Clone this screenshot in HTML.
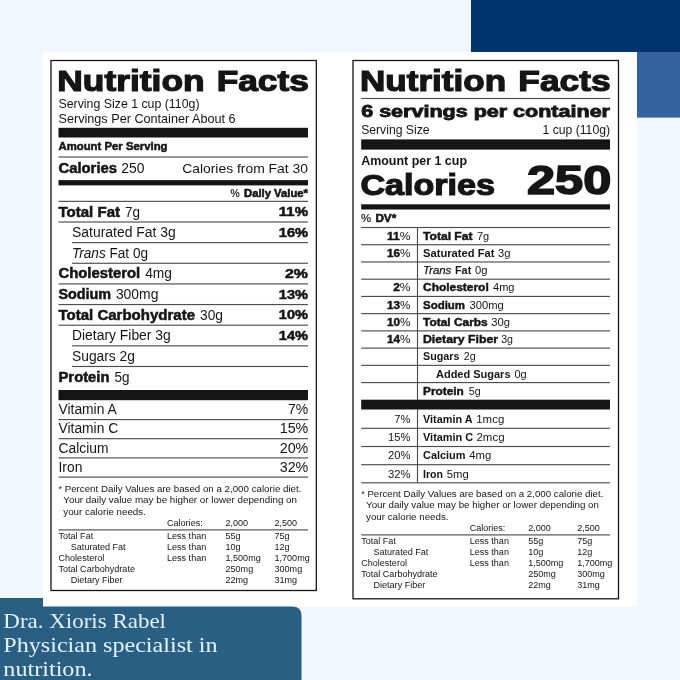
<!DOCTYPE html>
<html lang="en"><head><meta charset="utf-8"><title>Nutrition Facts</title>
<style>
html,body{margin:0;padding:0;background:#f2f7fc;}
body{width:680px;height:680px;overflow:hidden;}
svg{display:block;font-family:"Liberation Sans",sans-serif;fill:#151515;}
svg text{white-space:pre;}
</style></head><body>
<svg width="680" height="680" viewBox="0 0 680 680">
<rect x="0" y="0" width="680" height="680" fill="#f2f7fc"/>
<rect x="471" y="0" width="209" height="52.3" fill="#00346f"/>
<rect x="637" y="52" width="43" height="65.6" fill="#33629e"/>
<rect x="43" y="52" width="594" height="554.6" fill="#ffffff"/>
<path d="M0 598H43V606.6H292Q301.5 606.6 301.5 616V680H0Z" fill="#285f83"/>
<text x="3.30" y="628.00" font-size="21.32" font-family='"Liberation Serif", serif' fill="#e3f1f8" textLength="162.70" lengthAdjust="spacingAndGlyphs">Dra. Xioris Rabel</text>
<text x="3.30" y="652.00" font-size="21.32" font-family='"Liberation Serif", serif' fill="#e3f1f8" textLength="214.20" lengthAdjust="spacingAndGlyphs">Physician specialist in</text>
<text x="3.30" y="676.00" font-size="21.32" font-family='"Liberation Serif", serif' fill="#e3f1f8" textLength="89.30" lengthAdjust="spacingAndGlyphs">nutrition.</text>
<rect x="51" y="60.5" width="265.3" height="530" fill="none" stroke="#151515" stroke-width="1.3"/>
<text x="57.30" y="91.00" font-size="29.54" font-weight="bold" stroke="#151515" stroke-width="1.2" textLength="147.30" lengthAdjust="spacingAndGlyphs">Nutrition</text>
<text x="216.70" y="91.00" font-size="29.54" font-weight="bold" stroke="#151515" stroke-width="1.2" textLength="92.10" lengthAdjust="spacingAndGlyphs">Facts</text>
<text x="58.50" y="108.00" font-size="13.0" textLength="141.00" lengthAdjust="spacingAndGlyphs">Serving Size 1 cup (110g)</text>
<text x="58.50" y="122.50" font-size="13.0" textLength="177.10" lengthAdjust="spacingAndGlyphs">Servings Per Container About 6</text>
<rect x="58.5" y="127.8" width="249.5" height="9.7" fill="#151515"/>
<text x="58.50" y="150.40" font-size="10.82" font-weight="bold" stroke="#151515" stroke-width="0.5" textLength="109.00" lengthAdjust="spacingAndGlyphs">Amount Per Serving</text>
<rect x="58.5" y="156.43" width="249.5" height="1.15" fill="#4d4d4d"/>
<text x="58.50" y="172.60" font-size="13.83" font-weight="bold" stroke="#151515" stroke-width="0.5" textLength="58.50" lengthAdjust="spacingAndGlyphs">Calories</text>
<text x="121.20" y="172.60" font-size="13.83" textLength="23.20" lengthAdjust="spacingAndGlyphs">250</text>
<text x="182.20" y="172.60" font-size="13.42" textLength="125.80" lengthAdjust="spacingAndGlyphs">Calories from Fat 30</text>
<rect x="58.5" y="180.1" width="249.5" height="5.3" fill="#151515"/>
<text x="230.60" y="197.20" font-size="10.3" stroke="#151515" stroke-width="0.2">%</text>
<text x="244.00" y="197.20" font-size="10.3" font-weight="bold" stroke="#151515" stroke-width="0.5" textLength="64.00" lengthAdjust="spacingAndGlyphs">Daily Value*</text>
<rect x="58.5" y="200.78" width="249.5" height="1.15" fill="#4d4d4d"/>
<text x="58.50" y="216.55" font-size="13.94" font-weight="bold" stroke="#151515" stroke-width="0.5" textLength="61.50" lengthAdjust="spacingAndGlyphs">Total Fat</text>
<text x="125.00" y="216.55" font-size="13.94" textLength="15.00" lengthAdjust="spacingAndGlyphs">7g</text>
<text x="278.80" y="216.15" font-size="12.38" font-weight="bold" stroke="#151515" stroke-width="0.5" textLength="29.20" lengthAdjust="spacingAndGlyphs">11%</text>
<rect x="58.5" y="221.42" width="249.5" height="1.15" fill="#4d4d4d"/>
<text x="72.00" y="237.19" font-size="13.94" textLength="103.75" lengthAdjust="spacingAndGlyphs">Saturated Fat 3g</text>
<text x="278.80" y="236.79" font-size="12.38" font-weight="bold" stroke="#151515" stroke-width="0.5" textLength="29.20" lengthAdjust="spacingAndGlyphs">16%</text>
<rect x="72" y="242.06" width="236" height="1.15" fill="#4d4d4d"/>
<text x="72.00" y="257.83" font-size="13.94" font-style="italic" textLength="33.72" lengthAdjust="spacingAndGlyphs">Trans</text>
<text x="109.49" y="257.83" font-size="13.94" textLength="38.51" lengthAdjust="spacingAndGlyphs">Fat 0g</text>
<rect x="72" y="262.69" width="236" height="1.15" fill="#4d4d4d"/>
<text x="58.50" y="278.47" font-size="13.94" font-weight="bold" stroke="#151515" stroke-width="0.5" textLength="81.70" lengthAdjust="spacingAndGlyphs">Cholesterol</text>
<text x="145.20" y="278.47" font-size="13.94" textLength="26.80" lengthAdjust="spacingAndGlyphs">4mg</text>
<text x="285.00" y="278.07" font-size="12.38" font-weight="bold" stroke="#151515" stroke-width="0.5" textLength="23.00" lengthAdjust="spacingAndGlyphs">2%</text>
<rect x="58.5" y="283.33" width="249.5" height="1.15" fill="#4d4d4d"/>
<text x="58.50" y="299.11" font-size="13.94" font-weight="bold" stroke="#151515" stroke-width="0.5" textLength="52.60" lengthAdjust="spacingAndGlyphs">Sodium</text>
<text x="115.90" y="299.11" font-size="13.94" textLength="42.50" lengthAdjust="spacingAndGlyphs">300mg</text>
<text x="278.80" y="298.71" font-size="12.38" font-weight="bold" stroke="#151515" stroke-width="0.5" textLength="29.20" lengthAdjust="spacingAndGlyphs">13%</text>
<rect x="58.5" y="303.98" width="249.5" height="1.15" fill="#4d4d4d"/>
<text x="58.50" y="319.75" font-size="13.94" font-weight="bold" stroke="#151515" stroke-width="0.5" textLength="136.50" lengthAdjust="spacingAndGlyphs">Total Carbohydrate</text>
<text x="200.00" y="319.75" font-size="13.94" textLength="23.00" lengthAdjust="spacingAndGlyphs">30g</text>
<text x="278.80" y="319.35" font-size="12.38" font-weight="bold" stroke="#151515" stroke-width="0.5" textLength="29.20" lengthAdjust="spacingAndGlyphs">10%</text>
<rect x="58.5" y="324.62" width="249.5" height="1.15" fill="#4d4d4d"/>
<text x="72.00" y="340.39" font-size="13.94" textLength="98.75" lengthAdjust="spacingAndGlyphs">Dietary Fiber 3g</text>
<text x="278.80" y="339.99" font-size="12.38" font-weight="bold" stroke="#151515" stroke-width="0.5" textLength="29.20" lengthAdjust="spacingAndGlyphs">14%</text>
<rect x="72" y="345.26" width="236" height="1.15" fill="#4d4d4d"/>
<text x="72.00" y="361.03" font-size="13.94" textLength="63.00" lengthAdjust="spacingAndGlyphs">Sugars 2g</text>
<rect x="72" y="365.90" width="236" height="1.15" fill="#4d4d4d"/>
<text x="58.50" y="381.67" font-size="13.94" font-weight="bold" stroke="#151515" stroke-width="0.5" textLength="51.00" lengthAdjust="spacingAndGlyphs">Protein</text>
<text x="114.50" y="381.67" font-size="13.94" textLength="15.00" lengthAdjust="spacingAndGlyphs">5g</text>
<rect x="58.5" y="390" width="249.5" height="10.2" fill="#151515"/>
<text x="58.50" y="414.30" font-size="13.83">Vitamin A</text>
<text x="288.00" y="414.30" font-size="13.83" textLength="20.30" lengthAdjust="spacingAndGlyphs">7%</text>
<rect x="58.5" y="419.03" width="249.5" height="1.15" fill="#4d4d4d"/>
<text x="58.50" y="433.40" font-size="13.83">Vitamin C</text>
<text x="279.70" y="433.40" font-size="13.83" textLength="28.60" lengthAdjust="spacingAndGlyphs">15%</text>
<rect x="58.5" y="438.12" width="249.5" height="1.15" fill="#4d4d4d"/>
<text x="58.50" y="452.60" font-size="13.83">Calcium</text>
<text x="279.70" y="452.60" font-size="13.83" textLength="28.60" lengthAdjust="spacingAndGlyphs">20%</text>
<rect x="58.5" y="457.33" width="249.5" height="1.15" fill="#4d4d4d"/>
<text x="58.50" y="471.80" font-size="13.83">Iron</text>
<text x="279.70" y="471.80" font-size="13.83" textLength="28.60" lengthAdjust="spacingAndGlyphs">32%</text>
<rect x="58.5" y="476.53" width="249.5" height="1.15" fill="#4d4d4d"/>
<text x="58.50" y="491.60" font-size="9.05">*</text>
<text x="64.70" y="491.60" font-size="9.05" textLength="236.70" lengthAdjust="spacingAndGlyphs">Percent Daily Values are based on a 2,000 calorie diet.</text>
<text x="63.30" y="503.40" font-size="9.05" textLength="233.70" lengthAdjust="spacingAndGlyphs">Your daily value may be higher or lower depending on</text>
<text x="63.30" y="515.00" font-size="9.05" textLength="82.60" lengthAdjust="spacingAndGlyphs">your calorie needs.</text>
<text x="167.00" y="526.30" font-size="9.05">Calories:</text>
<text x="225.50" y="526.30" font-size="9.05">2,000</text>
<text x="274.50" y="526.30" font-size="9.05">2,500</text>
<rect x="58.5" y="529.33" width="249.5" height="1.15" fill="#4d4d4d"/>
<text x="58.50" y="538.80" font-size="9.05">Total Fat</text>
<text x="167.00" y="538.80" font-size="9.05">Less than</text>
<text x="225.50" y="538.80" font-size="9.05">55g</text>
<text x="274.50" y="538.80" font-size="9.05">75g</text>
<text x="70.80" y="549.75" font-size="9.05">Saturated Fat</text>
<text x="167.00" y="549.75" font-size="9.05">Less than</text>
<text x="225.50" y="549.75" font-size="9.05">10g</text>
<text x="274.50" y="549.75" font-size="9.05">12g</text>
<text x="58.50" y="560.70" font-size="9.05">Cholesterol</text>
<text x="167.00" y="560.70" font-size="9.05">Less than</text>
<text x="225.50" y="560.70" font-size="9.05">1,500mg</text>
<text x="274.50" y="560.70" font-size="9.05">1,700mg</text>
<text x="58.50" y="571.65" font-size="9.05">Total Carbohydrate</text>
<text x="225.50" y="571.65" font-size="9.05">250mg</text>
<text x="274.50" y="571.65" font-size="9.05">300mg</text>
<text x="70.80" y="582.60" font-size="9.05">Dietary Fiber</text>
<text x="225.50" y="582.60" font-size="9.05">22mg</text>
<text x="274.50" y="582.60" font-size="9.05">31mg</text>
<rect x="353" y="60.5" width="265.5" height="538.3" fill="none" stroke="#151515" stroke-width="1.3"/>
<text x="360.00" y="91.00" font-size="29.54" font-weight="bold" stroke="#151515" stroke-width="1.2" textLength="146.10" lengthAdjust="spacingAndGlyphs">Nutrition</text>
<text x="518.30" y="91.00" font-size="29.54" font-weight="bold" stroke="#151515" stroke-width="1.2" textLength="92.30" lengthAdjust="spacingAndGlyphs">Facts</text>
<rect x="361.2" y="97.92" width="248.8" height="1.15" fill="#4d4d4d"/>
<text x="361.20" y="116.50" font-size="15.6" font-weight="bold" stroke="#151515" stroke-width="0.8" textLength="248.80" lengthAdjust="spacingAndGlyphs">6 servings per container</text>
<text x="361.20" y="133.80" font-size="12.06" textLength="68.30" lengthAdjust="spacingAndGlyphs">Serving Size</text>
<text x="542.50" y="133.80" font-size="12.06" textLength="67.50" lengthAdjust="spacingAndGlyphs">1 cup (110g)</text>
<rect x="361.2" y="139.4" width="248.8" height="10.2" fill="#151515"/>
<text x="361.20" y="164.50" font-size="12.06" font-weight="bold" textLength="105.80" lengthAdjust="spacingAndGlyphs">Amount per 1 cup</text>
<text x="360.40" y="195.10" font-size="29.33" font-weight="bold" stroke="#151515" stroke-width="1.2" textLength="134.60" lengthAdjust="spacingAndGlyphs">Calories</text>
<text x="527.00" y="193.80" font-size="40.14" font-weight="bold" stroke="#151515" stroke-width="1.6" textLength="84.20" lengthAdjust="spacingAndGlyphs">250</text>
<rect x="361.2" y="204.3" width="248.8" height="5.2" fill="#151515"/>
<text x="360.90" y="222.00" font-size="10.4" stroke="#151515" stroke-width="0.2" textLength="10.10" lengthAdjust="spacingAndGlyphs">%</text>
<text x="375.40" y="222.00" font-size="10.4" font-weight="bold" stroke="#151515" stroke-width="0.5" textLength="20.80" lengthAdjust="spacingAndGlyphs">DV*</text>
<rect x="361.2" y="226.93" width="248.8" height="1.15" fill="#4d4d4d"/>
<text x="423.00" y="239.70" font-size="11.23" font-weight="bold" stroke="#151515" stroke-width="0.45" textLength="49.50" lengthAdjust="spacingAndGlyphs">Total Fat</text>
<text x="477.00" y="239.70" font-size="11.23" textLength="12.25" lengthAdjust="spacingAndGlyphs">7g</text>
<text x="387.00" y="239.70" font-size="11.23" font-weight="bold" stroke="#151515" stroke-width="0.45" textLength="12.76" lengthAdjust="spacingAndGlyphs">11</text>
<text x="399.76" y="239.70" font-size="11.23" textLength="10.74" lengthAdjust="spacingAndGlyphs">%</text>
<rect x="361.2" y="244.16" width="248.8" height="1.15" fill="#4d4d4d"/>
<text x="423.00" y="256.93" font-size="11.23" font-weight="bold" textLength="71.50" lengthAdjust="spacingAndGlyphs">Saturated Fat</text>
<text x="498.00" y="256.93" font-size="11.23">3g</text>
<text x="387.00" y="256.93" font-size="11.23" font-weight="bold" stroke="#151515" stroke-width="0.45" textLength="13.06" lengthAdjust="spacingAndGlyphs">16</text>
<text x="400.06" y="256.93" font-size="11.23" textLength="10.44" lengthAdjust="spacingAndGlyphs">%</text>
<rect x="361.2" y="261.38" width="248.8" height="1.15" fill="#4d4d4d"/>
<text x="423.00" y="274.16" font-size="11.23" font-style="italic" stroke="#151515" stroke-width="0.25" textLength="28.25" lengthAdjust="spacingAndGlyphs">Trans</text>
<text x="455.00" y="274.16" font-size="11.23" font-weight="bold" textLength="16.25" lengthAdjust="spacingAndGlyphs">Fat</text>
<text x="475.00" y="274.16" font-size="11.23">0g</text>
<rect x="361.2" y="278.62" width="248.8" height="1.15" fill="#4d4d4d"/>
<text x="423.00" y="291.39" font-size="11.23" font-weight="bold" stroke="#151515" stroke-width="0.45" textLength="65.75" lengthAdjust="spacingAndGlyphs">Cholesterol</text>
<text x="493.00" y="291.39" font-size="11.23" textLength="21.50" lengthAdjust="spacingAndGlyphs">4mg</text>
<text x="393.20" y="291.39" font-size="11.23" font-weight="bold" stroke="#151515" stroke-width="0.45" textLength="6.66" lengthAdjust="spacingAndGlyphs">2</text>
<text x="399.86" y="291.39" font-size="11.23" textLength="10.64" lengthAdjust="spacingAndGlyphs">%</text>
<rect x="361.2" y="295.85" width="248.8" height="1.15" fill="#4d4d4d"/>
<text x="423.00" y="308.62" font-size="11.23" font-weight="bold" stroke="#151515" stroke-width="0.45" textLength="42.00" lengthAdjust="spacingAndGlyphs">Sodium</text>
<text x="469.50" y="308.62" font-size="11.23" textLength="34.25" lengthAdjust="spacingAndGlyphs">300mg</text>
<text x="387.00" y="308.62" font-size="11.23" font-weight="bold" stroke="#151515" stroke-width="0.45" textLength="13.06" lengthAdjust="spacingAndGlyphs">13</text>
<text x="400.06" y="308.62" font-size="11.23" textLength="10.44" lengthAdjust="spacingAndGlyphs">%</text>
<rect x="361.2" y="313.07" width="248.8" height="1.15" fill="#4d4d4d"/>
<text x="423.00" y="325.85" font-size="11.23" font-weight="bold" stroke="#151515" stroke-width="0.45" textLength="64.70" lengthAdjust="spacingAndGlyphs">Total Carbs</text>
<text x="491.25" y="325.85" font-size="11.23">30g</text>
<text x="387.00" y="325.85" font-size="11.23" font-weight="bold" stroke="#151515" stroke-width="0.45" textLength="13.06" lengthAdjust="spacingAndGlyphs">10</text>
<text x="400.06" y="325.85" font-size="11.23" textLength="10.44" lengthAdjust="spacingAndGlyphs">%</text>
<rect x="361.2" y="330.31" width="248.8" height="1.15" fill="#4d4d4d"/>
<text x="423.00" y="343.08" font-size="11.23" font-weight="bold" stroke="#151515" stroke-width="0.45" textLength="75.00" lengthAdjust="spacingAndGlyphs">Dietary Fiber</text>
<text x="501.20" y="343.08" font-size="11.23" textLength="11.80" lengthAdjust="spacingAndGlyphs">3g</text>
<text x="387.00" y="343.08" font-size="11.23" font-weight="bold" stroke="#151515" stroke-width="0.45" textLength="13.06" lengthAdjust="spacingAndGlyphs">14</text>
<text x="400.06" y="343.08" font-size="11.23" textLength="10.44" lengthAdjust="spacingAndGlyphs">%</text>
<rect x="361.2" y="347.54" width="248.8" height="1.15" fill="#4d4d4d"/>
<text x="423.00" y="360.31" font-size="11.23" font-weight="bold" textLength="36.50" lengthAdjust="spacingAndGlyphs">Sugars</text>
<text x="463.75" y="360.31" font-size="11.23" textLength="11.85" lengthAdjust="spacingAndGlyphs">2g</text>
<rect x="361.2" y="364.77" width="248.8" height="1.15" fill="#4d4d4d"/>
<text x="436.00" y="377.54" font-size="11.23" font-weight="bold" textLength="74.50" lengthAdjust="spacingAndGlyphs">Added Sugars</text>
<text x="514.50" y="377.54" font-size="11.23" textLength="12.25" lengthAdjust="spacingAndGlyphs">0g</text>
<rect x="361.2" y="382.00" width="248.8" height="1.15" fill="#4d4d4d"/>
<text x="423.00" y="394.77" font-size="11.23" font-weight="bold" stroke="#151515" stroke-width="0.45" textLength="40.75" lengthAdjust="spacingAndGlyphs">Protein</text>
<text x="468.75" y="394.77" font-size="11.23" textLength="11.85" lengthAdjust="spacingAndGlyphs">5g</text>
<rect x="361.2" y="399.7" width="248.8" height="9.8" fill="#151515"/>
<text x="423.00" y="423.00" font-size="11.23" font-weight="bold" textLength="49.50" lengthAdjust="spacingAndGlyphs">Vitamin A</text>
<text x="476.25" y="423.00" font-size="11.23" textLength="28.00" lengthAdjust="spacingAndGlyphs">1mcg</text>
<text x="394.27" y="423.00" font-size="11.23">7%</text>
<rect x="361.2" y="427.73" width="248.8" height="1.15" fill="#4d4d4d"/>
<text x="423.00" y="441.20" font-size="11.23" font-weight="bold" textLength="50.25" lengthAdjust="spacingAndGlyphs">Vitamin C</text>
<text x="476.50" y="441.20" font-size="11.23" textLength="28.00" lengthAdjust="spacingAndGlyphs">2mcg</text>
<text x="388.02" y="441.20" font-size="11.23">15%</text>
<rect x="361.2" y="445.93" width="248.8" height="1.15" fill="#4d4d4d"/>
<text x="423.00" y="459.40" font-size="11.23" font-weight="bold" textLength="42.50" lengthAdjust="spacingAndGlyphs">Calcium</text>
<text x="469.25" y="459.40" font-size="11.23" textLength="22.00" lengthAdjust="spacingAndGlyphs">4mg</text>
<text x="388.02" y="459.40" font-size="11.23">20%</text>
<rect x="361.2" y="464.12" width="248.8" height="1.15" fill="#4d4d4d"/>
<text x="423.00" y="477.50" font-size="11.23" font-weight="bold" textLength="20.00" lengthAdjust="spacingAndGlyphs">Iron</text>
<text x="446.75" y="477.50" font-size="11.23" textLength="22.00" lengthAdjust="spacingAndGlyphs">5mg</text>
<text x="388.02" y="477.50" font-size="11.23">32%</text>
<rect x="361.2" y="482.23" width="248.8" height="1.15" fill="#4d4d4d"/>
<rect x="416.93" y="227.5" width="1.15" height="172.5" fill="#4d4d4d"/>
<rect x="416.93" y="409.3" width="1.15" height="73.5" fill="#4d4d4d"/>
<text x="361.20" y="496.60" font-size="9.05">*</text>
<text x="367.40" y="496.60" font-size="9.05" textLength="236.00" lengthAdjust="spacingAndGlyphs">Percent Daily Values are based on a 2,000 calorie diet.</text>
<text x="366.00" y="508.40" font-size="9.05" textLength="233.00" lengthAdjust="spacingAndGlyphs">Your daily value may be higher or lower depending on</text>
<text x="366.00" y="520.00" font-size="9.05" textLength="82.60" lengthAdjust="spacingAndGlyphs">your calorie needs.</text>
<text x="469.70" y="531.30" font-size="9.05">Calories:</text>
<text x="528.20" y="531.30" font-size="9.05">2,000</text>
<text x="577.20" y="531.30" font-size="9.05">2,500</text>
<rect x="361.2" y="534.33" width="248.8" height="1.15" fill="#4d4d4d"/>
<text x="361.20" y="543.80" font-size="9.05">Total Fat</text>
<text x="469.70" y="543.80" font-size="9.05">Less than</text>
<text x="528.20" y="543.80" font-size="9.05">55g</text>
<text x="577.20" y="543.80" font-size="9.05">75g</text>
<text x="373.50" y="554.75" font-size="9.05">Saturated Fat</text>
<text x="469.70" y="554.75" font-size="9.05">Less than</text>
<text x="528.20" y="554.75" font-size="9.05">10g</text>
<text x="577.20" y="554.75" font-size="9.05">12g</text>
<text x="361.20" y="565.70" font-size="9.05">Cholesterol</text>
<text x="469.70" y="565.70" font-size="9.05">Less than</text>
<text x="528.20" y="565.70" font-size="9.05">1,500mg</text>
<text x="577.20" y="565.70" font-size="9.05">1,700mg</text>
<text x="361.20" y="576.65" font-size="9.05">Total Carbohydrate</text>
<text x="528.20" y="576.65" font-size="9.05">250mg</text>
<text x="577.20" y="576.65" font-size="9.05">300mg</text>
<text x="373.50" y="587.60" font-size="9.05">Dietary Fiber</text>
<text x="528.20" y="587.60" font-size="9.05">22mg</text>
<text x="577.20" y="587.60" font-size="9.05">31mg</text>
</svg>
</body></html>
